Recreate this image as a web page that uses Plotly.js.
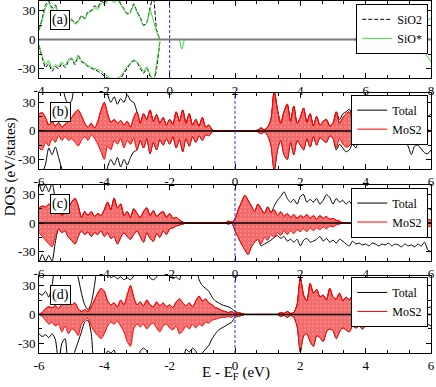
<!DOCTYPE html>
<html>
<head>
<meta charset="utf-8">
<script src="https://cdn.plot.ly/plotly-3.0.1.min.js"></script>
<style>html,body{margin:0;padding:0;background:#fff;}#chart{width:436px;height:387px;}</style>
</head>
<body>
<div id="chart"></div>
<script>
// ---------- Panel (a): SiO2 / SiO* ----------
const energyA = [-4.0,-3.9,-3.8,-3.7,-3.6,-3.5,-3.4,-3.3,-3.2,-3.1,
  -3.0,-2.9,-2.8,-2.7,-2.6,-2.5,-2.4,-2.3,-2.2,-2.1,
  -2.0,-1.9,-1.8,-1.7,-1.6,-1.5,-1.4,-1.3,-1.2,-1.1,
  -1.0,-0.9,-0.8,-0.7,-0.6,-0.5,-0.4,-0.3];
const sio2Up = [10,22,36,40,33,36,27,23,26,19, 21,17,19,25,22,29,30,35,33,40, 38,42,45,40,44,37,32,27,29,37, 29,23,15,18,33,45,10,0];
const sio2Dn = [-6,-19,-29,-25,-33,-28,-30,-25,-29,-23, -20,-26,-17,-23,-25,-28,-30,-31,-33,-35, -38,-40,-42,-43,-42,-40,-35,-30,-25,-22, -24,-30,-35,-30,-38,-45,-30,-2];
const sioUp = [9,20,33,38,31,34,26,22,25,18, 20,16,18,24,21,28,29,33,31,38, 36,40,42,38,41,36,31,26,28,36, 28,22,14,17,31,20,8,0];
const sioDn = [-5,-17,-26,-22,-31,-26,-28,-23,-27,-21, -19,-24,-16,-22,-24,-27,-29,-30,-31,-33, -36,-38,-40,-41,-40,-38,-33,-28,-24,-21, -23,-28,-33,-28,-36,-42,-25,-2];
const energyABlip = [0.30, 0.37, 0.45];
const sioBlip = [0, -10, 0];
const energyACb = [5.6,5.7,5.8,5.9,6.0,6.1,6.2,6.3,6.4,6.5,6.6,6.7,6.8,6.9,7.0,7.1,7.2,7.3,7.4,7.5,7.6,7.7,7.8,7.9,8.0];
const sioCbUp = [0,1,3,2,5,9,6,8,10,7,9,5,10,12,10,14,12,16,14,18,15,19,17,20,22];
const sioCbDn = [0,-1,-3,-2,-4,-3,-5,-4,-6,-5,-7,-6,-8,-7,-10,-9,-12,-11,-13,-12,-15,-13,-14,-18,-23];

// ---------- Panels (b)-(d): common energy grid ----------
const energy = [-6.0,-5.9,-5.8,-5.7,-5.6,-5.5,-5.4,-5.3,-5.2,-5.1,
  -5.0,-4.9,-4.8,-4.7,-4.6,-4.5,-4.4,-4.3,-4.2,-4.1,
  -4.0,-3.9,-3.8,-3.7,-3.6,-3.5,-3.4,-3.3,-3.2,-3.1,
  -3.0,-2.9,-2.8,-2.7,-2.6,-2.5,-2.4,-2.3,-2.2,-2.1,
  -2.0,-1.9,-1.8,-1.7,-1.6,-1.5,-1.4,-1.3,-1.2,-1.1,
  -1.0,-0.9,-0.8,-0.7,-0.6,-0.5,-0.4,-0.3,-0.2,-0.1,
  0.0,0.1,0.2,0.3,0.4,0.5,0.6,0.7,0.8,0.9,
  1.0,1.1,1.2,1.3,1.4,1.5,1.6,1.7,1.8,1.9,
  2.0,2.1,2.2,2.3,2.4,2.5,2.6,2.7,2.8,2.9,
  3.0,3.1,3.2,3.3,3.4,3.5,3.6,3.7,3.8,3.9,
  4.0,4.1,4.2,4.3,4.4,4.5,4.6,4.7,4.8,4.9,
  5.0,5.1,5.2,5.3,5.4,5.5,5.6,5.7,5.8,5.9,
  6.0];

// (b)
const mosB_up = [18,19,14,6,10,5,9,4,7,10, 14,19,22,16,8,4,8,3,10,22, 30,18,9,12,8,11,6,10,4,14,
  20,8,18,12,22,10,17,8,14,6, 12,7,20,10,22,8,18,6,12,5, 14,4,6,1,0,0,0,0,0,0,
  0,0,0,0,0,0,0,1,3,1, 4,12,42,22,8,20,28,10,26,8, 14,24,9,18,5,15,6,10,12,5,
  8,20,8,14,18,20,12,15,8,6, 3,0,0,0,0,0,0,0,0,0, 0,0,0,0,0,0,0,0,0,1, 0];
const mosB_dn = [-18,-20,-12,-16,-8,-12,-5,-10,-6,-10, -8,-12,-16,-10,-6,-10,-4,-8,-14,-22, -30,-16,-20,-10,-14,-8,-18,-10,-14,-8,
  -20,-10,-18,-8,-24,-12,-20,-9,-15,-8, -14,-6,-18,-9,-22,-8,-16,-6,-12,-5, -10,-4,-5,-1,0,0,0,0,0,0,
  0,0,0,0,0,0,0,-1,-3,-1, -5,-15,-42,-20,-10,-25,-30,-12,-25,-10, -15,-20,-8,-17,-6,-15,-7,-10,-12,-5,
  -8,-18,-8,-14,-17,-16,-10,-13,-7,-5, -2,0,0,0,0,0,0,0,0,0, 0,0,0,0,0,0,0,0,0,-1, 0];
const totB_up = [50,50,50,50,50,50,50,50,35,28, 32,50,50,50,50,50,50,50,50,50, 50,38,30,36,28,34,30,38,32,30,
  20,8,18,12,22,10,17,8,14,6, 12,7,20,10,22,8,18,6,12,5, 14,4,6,1,0,0,0,0,0,0,
  0,0,0,0,0,0,0,1,3,1, 4,12,42,22,8,20,28,10,26,8, 14,24,9,18,5,15,6,10,12,5,
  8,20,12,18,20,23,16,18,12,14, 10,12,9,11,8,10,9,12,10,13, 11,14,12,15,13,20,16,18,20,15, 18];
const totB_dn = [-50,-45,-35,-18,-25,-17,-28,-40,-50,-50, -50,-50,-50,-50,-50,-50,-50,-50,-50,-50, -50,-38,-30,-36,-28,-38,-30,-36,-28,-22,
  -20,-10,-18,-8,-24,-12,-20,-9,-15,-8, -14,-6,-18,-9,-22,-8,-16,-6,-12,-5, -10,-4,-5,-1,0,0,0,0,0,0,
  0,0,0,0,0,0,0,-1,-3,-1, -5,-15,-42,-20,-10,-25,-30,-12,-25,-10, -15,-20,-8,-17,-6,-15,-7,-10,-12,-5,
  -8,-20,-14,-18,-22,-20,-14,-18,-10,-13, -8,-9,-6,-9,-7,-13,-10,-12,-9,-13, -10,-14,-11,-16,-25,-16,-15,-19,-23,-24, -20];

// (c)
const mosC_up = [16,18,17,20,18,10,14,8,12,16, 22,26,18,6,12,8,12,7,10,8, 14,22,14,26,16,20,8,12,6,15,
  10,6,12,16,8,13,7,10,12,6, 10,5,6,3,1,0,0,0,0,0, 0,0,0,0,0,0,0,0,2,1,
  4,14,22,29,24,18,12,20,15,10, 17,11,14,8,12,7,10,6,9,5, 8,6,9,5,8,4,8,5,7,4,
  5,3,2,0,0,0,0,0,0,0, 0,0,0,0,0,1,2,2,3,2, 3,2,2,2,3,4,4,3,3,4, 3];
const mosC_dn = [-10,-14,-18,-22,-25,-14,-6,-10,-8,-15, -18,-22,-14,-8,-12,-9,-14,-10,-12,-8, -14,-10,-16,-14,-22,-15,-10,-14,-17,-12,
  -8,-14,-20,-10,-16,-19,-11,-15,-8,-12, -6,-5,-3,-2,-1,0,0,0,0,0, 0,0,0,0,0,0,0,0,-1,0,
  -8,-15,-22,-28,-33,-25,-20,-17,-22,-15, -18,-12,-15,-10,-13,-8,-12,-8,-11,-7, -9,-6,-9,-5,-8,-5,-7,-4,-6,-3,
  -4,-2,-1,0,0,0,0,0,0,0, 0,0,0,0,0,-1,-2,-2,-3,-2, -3,-2,-2,-2,-3,-4,-4,-3,-3,-4, -3];
const totC_up = [42,33,40,33,42,25,14,8,12,16, 22,26,18,6,12,8,12,7,10,8, 14,22,14,26,16,20,8,12,6,15,
  10,6,12,16,8,13,7,10,12,6, 10,5,6,3,1,0,0,0,0,0, 0,0,0,0,0,0,0,0,2,1,
  4,14,22,29,24,18,12,20,15,10, 17,11,18,24,28,33,26,22,25,20, 28,30,22,25,22,26,20,24,30,27,
  20,26,22,24,20,23,19,22,18,20, 17,19,21,18,20,22,19,21,18,20, 22,19,21,20,18,21,19,22,20,16, 14];
const totC_dn = [-42,-33,-40,-34,-40,-20,-6,-10,-8,-15, -18,-22,-14,-8,-12,-9,-14,-10,-12,-8, -14,-10,-16,-14,-22,-15,-10,-14,-17,-12,
  -8,-14,-20,-10,-16,-19,-11,-15,-8,-12, -6,-5,-3,-2,-1,0,0,0,0,0, 0,0,0,0,0,0,0,0,-1,0,
  -8,-15,-22,-28,-33,-25,-20,-17,-24,-22, -20,-18,-15,-13,-16,-14,-19,-17,-20,-17, -24,-18,-16,-20,-19,-17,-14,-19,-16,-20,
  -18,-21,-17,-19,-22,-24,-19,-22,-21,-23, -22,-24,-21,-22,-24,-22,-23,-21,-24,-22, -23,-25,-22,-24,-23,-25,-22,-24,-20,-28, -30];

// (d)
const mosD_up = [0,2,6,8,7,9,6,12,20,14, 10,12,6,3,5,3,8,15,22,27, 24,14,10,12,8,15,10,20,30,18,
  10,13,9,15,10,8,13,9,12,8, 10,7,13,16,12,9,12,8,14,19, 14,16,12,10,7,6,4,3,2,3,
  1,2,1,0,0,0,0,0,0,0, 0,0,0,0,2,1,3,1,2,10, 38,20,14,32,22,26,18,20,15,27,
  18,16,22,14,18,15,20,16,14,16, 12,11,9,10,7,8,5,6,3,1, 0,0,0,0,0,0,0,0,0,0, 0];
const mosD_dn = [0,-2,-6,-10,-8,-12,-10,-18,-12,-20, -15,-17,-22,-10,-6,-4,-12,-18,-22,-25, -20,-12,-8,-10,-7,-12,-18,-28,-33,-15,
  -10,-13,-10,-15,-11,-9,-14,-18,-12,-10, -14,-16,-12,-20,-17,-12,-15,-10,-14,-10, -12,-8,-9,-6,-5,-4,-3,-3,-2,-3,
  -1,-2,-1,0,0,0,0,0,0,0, 0,0,0,0,-2,-1,-3,-1,-3,-12, -39,-22,-20,-28,-33,-22,-24,-28,-18,-15,
  -17,-25,-18,-14,-16,-18,-12,-14,-12,-15, -12,-10,-9,-12,-8,-7,-6,-5,-3,-1, 0,0,0,0,0,0,0,0,0,0, 0];
const totD_up = [22,20,24,18,30,50,50,50,50,50, 50,50,38,22,10,5,12,30,50,50, 50,50,38,40,37,39,36,38,36,40,
  50,50,50,50,38,36,39,50,50,50, 50,37,39,36,50,50,50,50,50,36, 30,27,24,18,14,12,10,9,8,6,
  3,2,1,0,0,0,0,0,0,0, 0,0,0,0,2,1,3,1,2,10, 38,20,14,32,22,26,18,20,15,27,
  18,16,22,14,18,15,20,16,14,16, 12,11,9,10,7,8,5,6,3,1, 0,0,0,0,0,2,4,5,6,7, 8];
const totD_dn = [-20,-23,-21,-24,-20,-26,-50,-30,-25,-50, -50,-38,-28,-18,-8,-6,-20,-50,-50,-50, -50,-38,-40,-37,-50,-50,-50,-50,-50,-50,
  -50,-38,-35,-38,-50,-50,-50,-50,-50,-50, -50,-50,-50,-50,-50,-36,-39,-35,-38,-50, -40,-36,-32,-25,-20,-16,-14,-12,-10,-8,
  -3,-2,-1,0,0,0,0,0,0,0, 0,0,0,0,-2,-1,-3,-1,-3,-12, -39,-22,-20,-28,-33,-22,-24,-28,-18,-15,
  -17,-25,-18,-14,-16,-18,-12,-14,-12,-15, -12,-10,-9,-12,-8,-7,-6,-5,-3,-1, 0,0,0,0,0,-2,-4,-6,-8,-10, -12];

// ---------- tick labels ----------
const xTickValsA = [-4,-2,0,2,4,6,8];
const xTickTextA = ['-4','-2','0','2','4','6','8'];
const xTickValsB = [-6,-4,-2,0,2,4,6];
const xTickTextB = ['-6','-4','-2','0','2','4','6'];
const yTickVals = [-30,0,30];
const yTickText = ['-30','0','30'];
const panelLabels = ['(a)','(b)','(c)','(d)'];
const legendNamesA = ['SiO2','SiO*'];
const legendNamesB = ['Total','MoS2'];

const FONT = 'Liberation Serif, Times New Roman, serif';
const RED = '#ff0000';
const pattern = {shape:'.', bgcolor:'#f36c6c', fgcolor:'#ffd6d6', size:4, solidity:0.07};

const traces = [];
// panel a
traces.push({x: energyA, y: sio2Up, xaxis:'x', yaxis:'y', mode:'lines', name: legendNamesA[0], legend:'legend', legendgroup:'a1',
  line:{color:'#000', width:1, dash:'4px,2px', shape:'spline', smoothing:0.6}});
traces.push({x: energyA, y: sio2Dn, xaxis:'x', yaxis:'y', mode:'lines', name: legendNamesA[0], legend:'legend', legendgroup:'a1', showlegend:false,
  line:{color:'#000', width:1, dash:'4px,2px', shape:'spline', smoothing:0.6}});
traces.push({x: energyA.concat([null], energyABlip, [null], energyACb), y: sioUp.concat([null], sioBlip, [null], sioCbUp),
  xaxis:'x', yaxis:'y', mode:'lines', name: legendNamesA[1], legend:'legend', legendgroup:'a2',
  line:{color:'#33dd33', width:1, shape:'spline', smoothing:0.6}});
traces.push({x: energyA.concat([null], energyACb), y: sioDn.concat([null], sioCbDn),
  xaxis:'x', yaxis:'y', mode:'lines', name: legendNamesA[1], legend:'legend', legendgroup:'a2', showlegend:false,
  line:{color:'#33dd33', width:1, shape:'spline', smoothing:0.6}});

const panelData = [
  {tu: totB_up, td: totB_dn, mu: mosB_up, md: mosB_dn},
  {tu: totC_up, td: totC_dn, mu: mosC_up, md: mosC_dn},
  {tu: totD_up, td: totD_dn, mu: mosD_up, md: mosD_dn}
];
panelData.forEach((p, i) => {
  const s = String(i + 2);
  const lg = 'legend' + s;
  const lineStyle = {color:RED, width:1, shape:'spline', smoothing:0.7};
  traces.push({x: energy, y: p.tu, xaxis:'x'+s, yaxis:'y'+s, mode:'lines', name: legendNamesB[0], legend: lg, legendgroup:'t'+s,
    line:{color:'#000', width:1, shape:'spline', smoothing:0.7}});
  traces.push({x: energy, y: p.td, xaxis:'x'+s, yaxis:'y'+s, mode:'lines', name: legendNamesB[0], legend: lg, legendgroup:'t'+s, showlegend:false,
    line:{color:'#000', width:1, shape:'spline', smoothing:0.7}});
  traces.push({x: energy, y: p.mu, xaxis:'x'+s, yaxis:'y'+s, mode:'lines', name: legendNamesB[1], legend: lg, legendgroup:'m'+s, showlegend:false,
    fill:'tozeroy', fillcolor:'#f36c6c', fillpattern: pattern, line: lineStyle});
  traces.push({x: energy, y: p.md, xaxis:'x'+s, yaxis:'y'+s, mode:'lines', name: legendNamesB[1], legend: lg, legendgroup:'m'+s, showlegend:false,
    fill:'tozeroy', fillcolor:'#f36c6c', fillpattern: pattern, line: lineStyle});
  // outline trace carrying the legend entry (red line symbol)
  traces.push({x: energy, y: p.mu, xaxis:'x'+s, yaxis:'y'+s, mode:'lines', name: legendNamesB[1], legend: lg, legendgroup:'m'+s,
    line: lineStyle});
});

const domains = [[0.781,1],[0.523,0.739],[0.261,0.477],[0,0.219]];
const layout = {
  width:436, height:387, margin:{l:39, r:5, t:1, b:34},
  paper_bgcolor:'#fff', plot_bgcolor:'#fff', showlegend:true,
  font:{family:FONT, color:'#000', size:13},
  annotations:[], shapes:[]
};
const legendTops = [0.992, 0.734, 0.470, 0.216];
for (let i = 0; i < 4; i++) {
  const s = i === 0 ? '' : String(i + 1);
  const isA = i === 0;
  layout['xaxis' + s] = {
    domain:[0,1], anchor:'y'+s, range: isA ? [-4,8] : [-6,6],
    tickmode:'array', tickvals: isA ? xTickValsA : xTickValsB, ticktext: isA ? xTickTextA : xTickTextB,
    ticks:'inside', ticklen:5, tickwidth:1, tickcolor:'#000',
    minor:{ticks:'inside', ticklen:3, tickwidth:1, tickcolor:'#000', tickmode:'linear', tick0:0, dtick:2/3, showgrid:false},
    showline:true, linecolor:'#000', linewidth:1, mirror:'ticks',
    showgrid:false, zeroline:false, tickfont:{family:FONT, size:13, color:'#000'}
  };
  layout['yaxis' + s] = {
    domain: domains[i], anchor:'x'+s, range:[-40,40],
    tickmode:'array', tickvals: yTickVals, ticktext: yTickText,
    ticks:'inside', ticklen:5, tickwidth:1, tickcolor:'#000',
    minor:{ticks:'inside', ticklen:3, tickwidth:1, tickcolor:'#000', tickmode:'linear', tick0:0, dtick:15, showgrid:false},
    showline:true, linecolor:'#000', linewidth:1, mirror:'ticks',
    showgrid:false, zeroline:false, tickfont:{family:FONT, size:13, color:'#000'}
  };
  layout['legend' + (i === 0 ? '' : String(i + 1))] = {
    x:0.993, xanchor:'right', y: legendTops[i], yanchor:'top',
    bgcolor:'#fff', bordercolor:'#000', borderwidth:1,
    font:{family:FONT, size:12, color:'#000'}, tracegroupgap:0, itemwidth:30
  };
  // zero line
  layout.shapes.push({type:'line', xref:'x'+s+' domain', yref:'y'+s, x0:0, x1:1, y0:0, y1:0, layer:'above',
    line:{color: isA ? '#7a7a7a' : '#000', width: isA ? 2 : 1.5}});
  // Fermi level
  layout.shapes.push({type:'line', xref:'x'+s, yref:'y'+s+' domain', x0:0, x1:0, y0:0, y1:1, layer:'above',
    line:{color:'#2b2bd6', width:1, dash:'3px,2px'}});
  // panel label
  layout.annotations.push({text: panelLabels[i], xref:'x'+s+' domain', yref:'y'+s+' domain', x:0.054, y:0.75,
    xanchor:'center', yanchor:'middle', showarrow:false, font:{family:FONT, size:14, color:'#000'},
    bgcolor:'#fff', bordercolor:'#000', borderwidth:1, borderpad:1});
}
layout.annotations.push({text:'DOS (eV/states)', xref:'paper', yref:'paper', x:-0.072, y:0.53, textangle:-90,
  showarrow:false, xanchor:'center', yanchor:'middle', font:{family:FONT, size:15, color:'#000'}});
layout.annotations.push({text:'E - E<sub>F</sub> (eV)', xref:'paper', yref:'paper', x:0.503, y:-0.057,
  showarrow:false, xanchor:'center', yanchor:'middle', font:{family:FONT, size:15, color:'#000'}});

Plotly.newPlot('chart', traces, layout, {displayModeBar:false, staticPlot:true});
</script>
</body>
</html>
